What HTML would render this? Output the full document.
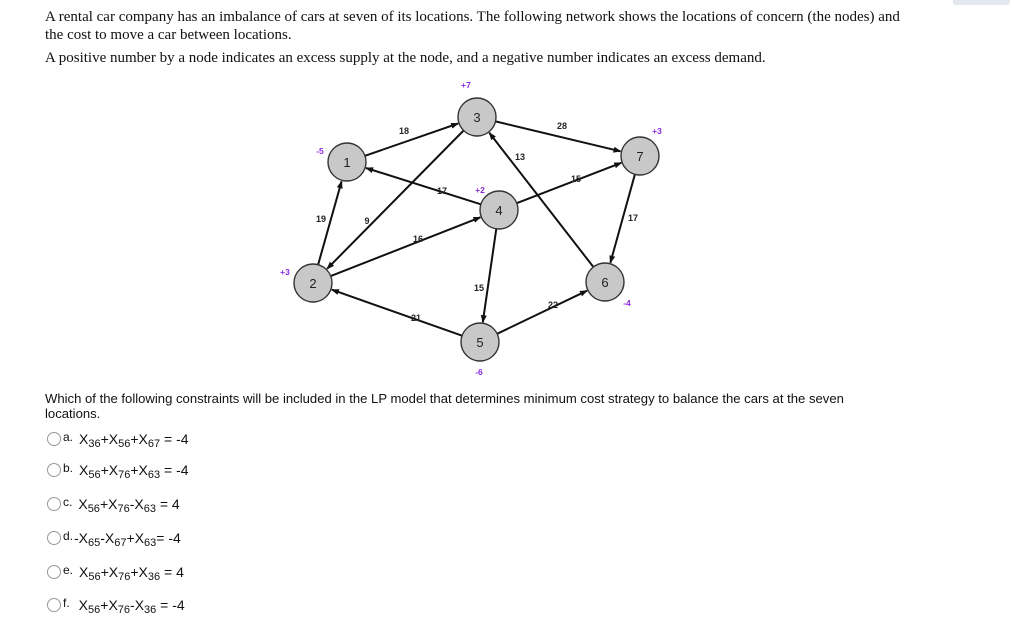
<!DOCTYPE html>
<html><head><meta charset="utf-8"><style>
body{margin:0;width:1010px;height:629px;background:#fff;position:relative;overflow:hidden;font-family:"Liberation Sans",sans-serif;color:#111}
.s{position:absolute;font-family:"Liberation Serif",serif;font-size:15px;left:45px;white-space:nowrap}
.t{position:absolute;font-size:13.1px;left:45px;white-space:nowrap}
.o{position:absolute;left:47px;font-size:14px;white-space:nowrap}
.o i{display:inline-block;width:12px;height:12px;border:1px solid #999;border-radius:50%;vertical-align:-2px;margin-right:2px}
.o b{font-weight:normal;font-size:12px;vertical-align:3px;margin-right:6px}
.o sub{font-size:11px;vertical-align:-3px}
</style></head><body>
<div style="position:absolute;left:953px;top:0;width:57px;height:5px;background:#e4e8ee;border-radius:0 0 3px 3px"></div>
<div class="s" style="top:9px">A rental car company has an imbalance of cars at seven of its locations. The following network shows the locations of concern (the nodes) and</div>
<div class="s" style="top:27px">the cost to move a car between locations.</div>
<div class="s" style="top:50px">A positive number by a node indicates an excess supply at the node, and a negative number indicates an excess demand.</div>
<svg style="position:absolute;left:0;top:0" width="1010" height="629">
<defs><marker id="a" markerWidth="8" markerHeight="8" refX="7" refY="4" orient="auto" markerUnits="userSpaceOnUse"><path d="M0,1 L8,4 L0,7 z" fill="#111"/></marker></defs>
<g stroke="#111" stroke-width="2" marker-end="url(#a)">
<line x1="365" y1="155.8" x2="458.1" y2="123.5"/>
<line x1="495.5" y1="121.4" x2="620.5" y2="151.3"/>
<line x1="463.6" y1="130.5" x2="327.1" y2="268.8"/>
<line x1="480.9" y1="204.3" x2="366.1" y2="168"/>
<line x1="516.7" y1="203.2" x2="621.3" y2="162.8"/>
<line x1="318.1" y1="264.7" x2="341.6" y2="181.3"/>
<line x1="330.7" y1="276.1" x2="480.4" y2="217.3"/>
<line x1="496.3" y1="228.8" x2="482.8" y2="322.2"/>
<line x1="593.4" y1="267" x2="489.3" y2="132.8"/>
<line x1="634.9" y1="174.3" x2="610.4" y2="262.7"/>
<line x1="462.1" y1="335.7" x2="331.9" y2="289.7"/>
<line x1="497.1" y1="333.8" x2="587" y2="290.7"/>
</g>
<g fill="#c8c8c8" stroke="#333" stroke-width="1.4">
<circle cx="477" cy="117" r="19"/><circle cx="347" cy="162" r="19"/><circle cx="640" cy="156" r="19"/>
<circle cx="499" cy="210" r="19"/><circle cx="313" cy="283" r="19"/><circle cx="605" cy="282" r="19"/><circle cx="480" cy="342" r="19"/>
</g>
<g font-family="Liberation Sans,sans-serif" font-size="13" text-anchor="middle" fill="#222">
<text x="477" y="122">3</text><text x="347" y="167">1</text><text x="640" y="161">7</text><text x="499" y="215">4</text><text x="313" y="288">2</text><text x="605" y="287">6</text><text x="480" y="347">5</text>
</g>
<g font-family="Liberation Sans,sans-serif" font-size="9" font-weight="bold" fill="#222" text-anchor="middle">
<text x="404" y="134">18</text><text x="562" y="129">28</text><text x="520" y="160">13</text><text x="442" y="194">17</text>
<text x="576" y="182">15</text><text x="321" y="222">19</text><text x="367" y="224">9</text><text x="418" y="242">16</text>
<text x="633" y="221">17</text><text x="479" y="291">15</text><text x="553" y="308">22</text><text x="416" y="321">21</text>
</g>
<g font-family="Liberation Sans,sans-serif" font-size="8.5" font-weight="bold" fill="#8a2be2" text-anchor="middle">
<text x="466" y="88">+7</text><text x="320" y="154">-5</text><text x="657" y="134">+3</text><text x="480" y="193">+2</text>
<text x="285" y="275">+3</text><text x="627" y="306">-4</text><text x="479" y="375">-6</text>
</g>
</svg>
<div class="t" style="top:391px">Which of the following constraints will be included in the LP model that determines minimum cost strategy to balance the cars at the seven</div>
<div class="t" style="top:406px">locations.</div>
<div class="o" style="top:430px"><i></i><b>a.</b>X<sub>36</sub>+X<sub>56</sub>+X<sub>67</sub> = -4</div>
<div class="o" style="top:461px"><i></i><b>b.</b>X<sub>56</sub>+X<sub>76</sub>+X<sub>63</sub> = -4</div>
<div class="o" style="top:495px"><i></i><b>c.</b>X<sub>56</sub>+X<sub>76</sub>-X<sub>63</sub> = 4</div>
<div class="o" style="top:529px"><i></i><b style="margin-right:1px">d.</b>-X<sub>65</sub>-X<sub>67</sub>+X<sub>63</sub>= -4</div>
<div class="o" style="top:563px"><i></i><b>e.</b>X<sub>56</sub>+X<sub>76</sub>+X<sub>36</sub> = 4</div>
<div class="o" style="top:596px"><i></i><b style="margin-right:9px">f.</b>X<sub>56</sub>+X<sub>76</sub>-X<sub>36</sub> = -4</div>
</body></html>
